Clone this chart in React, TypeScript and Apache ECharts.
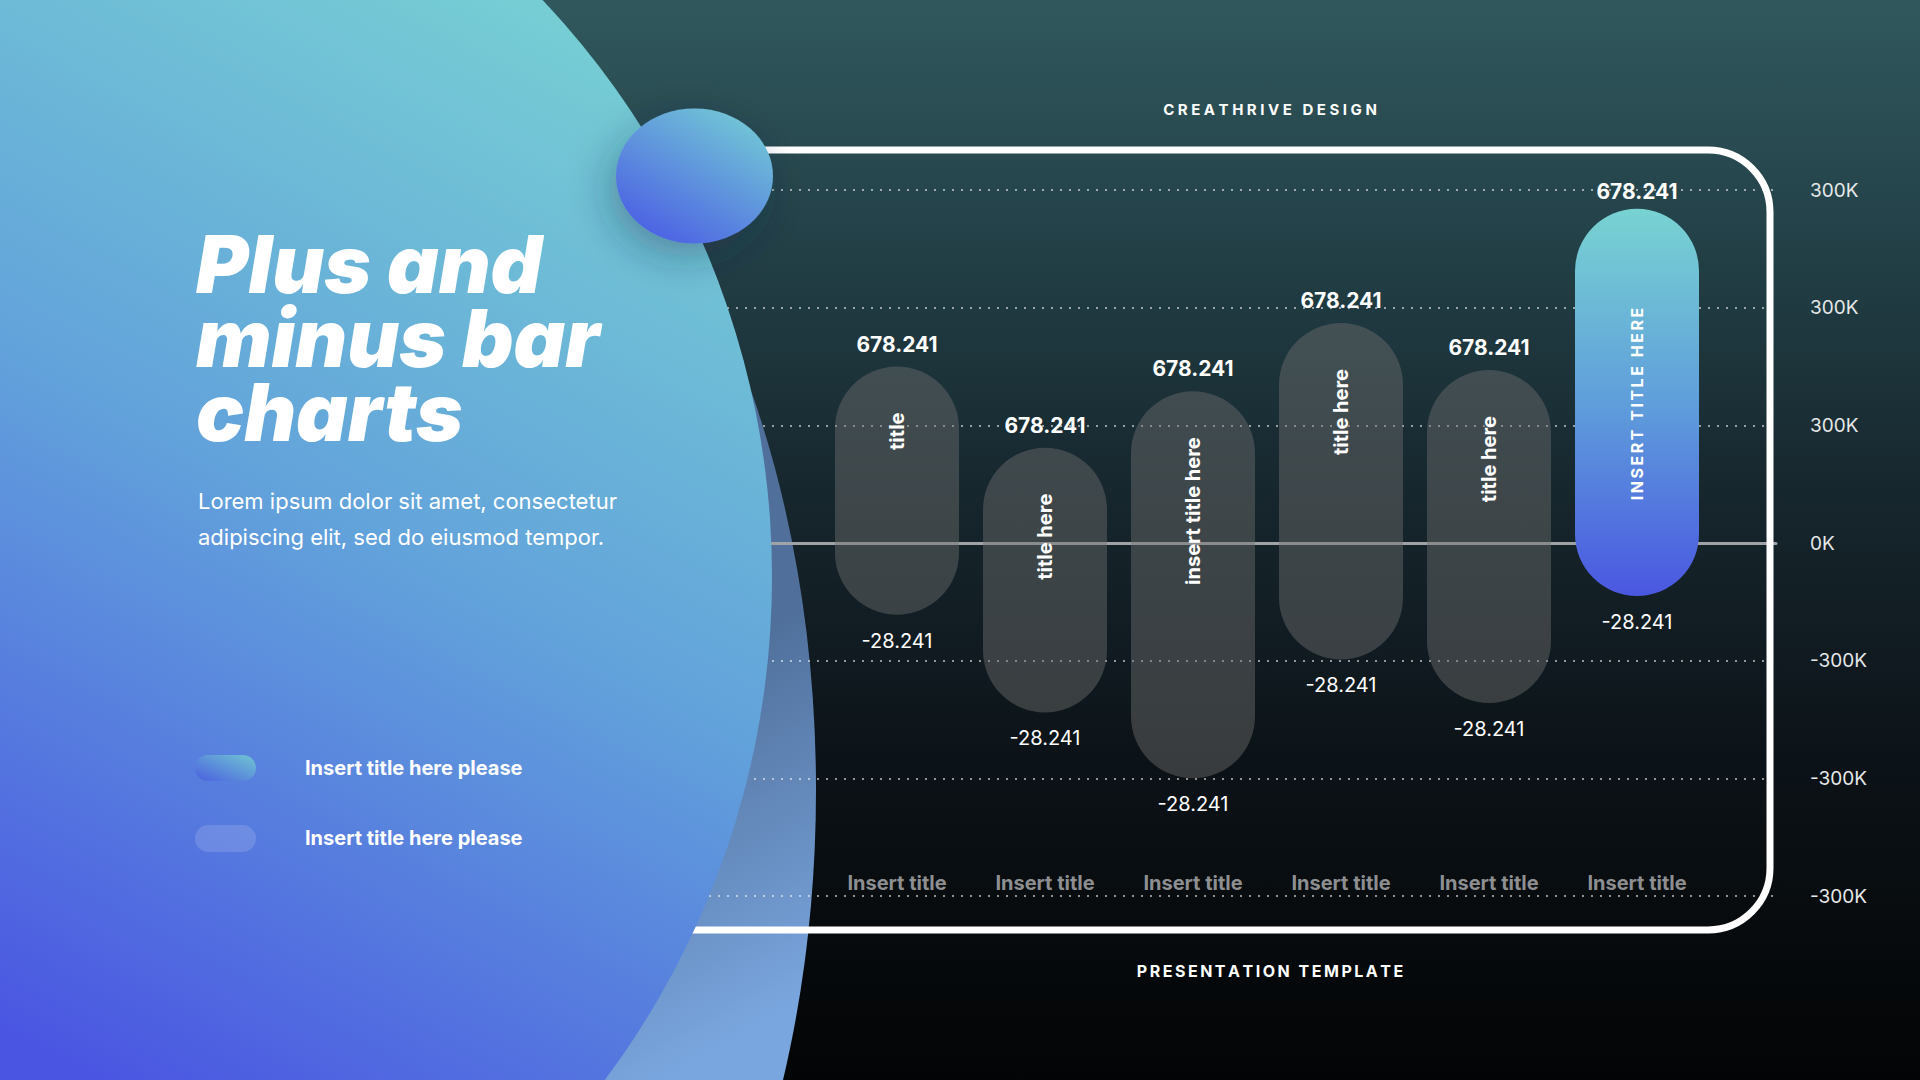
import React, { useEffect, useRef } from "react";
import * as echarts from "echarts";

const categories = ["Insert title", "Insert title", "Insert title", "Insert title", "Insert title", "Insert title"];
const barTops = [150, 81, 129, 187, 147, 284];
const barBottoms = [-61, -144, -200, -99, -136, -45];
const topLabels = ["678.241", "678.241", "678.241", "678.241", "678.241", "678.241"];
const bottomLabels = ["-28.241", "-28.241", "-28.241", "-28.241", "-28.241", "-28.241"];
const innerTitles = ["title", "title here", "insert title here", "title here", "title here", "INSERT TITLE HERE"];
const yTickLabels = ["-300K", "-300K", "-300K", "0K", "300K", "300K", "300K"];
const highlightIndex = 5;
const legendItems = ["Insert title here please", "Insert title here please"];

const FONT = "Inter, 'Noto Sans', sans-serif";
const spaced = (s: string, sep: string) => s.split("").join(sep);

export default function App() {
  const ref = useRef<HTMLDivElement>(null);
  useEffect(() => {
    if (!ref.current) return;
    const chart = echarts.init(ref.current, undefined, { renderer: "svg" });
    const spans = barTops.map((t, i) => t - barBottoms[i]);
    const gradBar = {
      type: "linear", x: 0, y: 0, x2: 0, y2: 1,
      colorStops: [{ offset: 0, color: "#78d3d2" }, { offset: 0.5, color: "#5f9edb" }, { offset: 1, color: "#4a57e1" }],
    };
    const option: any = {
      animation: false,
      grid: [
        { left: 700, right: 144, top: 190, bottom: 184 },
        { left: 823, right: 209, top: 190, bottom: 184 },
      ],
      xAxis: [
        {
          gridIndex: 0, type: "value", min: 0, max: 1,
          axisLabel: { show: false }, axisTick: { show: false }, splitLine: { show: false },
          axisLine: { show: true, onZero: true, lineStyle: { color: "#a0a3a5", width: 3 } },
        },
        {
          gridIndex: 1, type: "category", data: categories, offset: -32,
          axisLine: { show: false, onZero: false }, axisTick: { show: false },
          axisLabel: { color: "#8d8f91", fontSize: 20, fontWeight: "bold", fontFamily: FONT, margin: 9 },
        },
      ],
      yAxis: [
        {
          gridIndex: 0, type: "value", position: "right", min: -300, max: 300, interval: 100,
          axisLine: { show: false }, axisTick: { show: false },
          axisLabel: {
            color: "#e6e8e9", fontSize: 19, fontFamily: FONT, margin: 34,
            formatter: (v: number) => yTickLabels[Math.round((v + 300) / 100)],
          },
          splitLine: { show: true, lineStyle: { color: "rgba(255,255,255,0.55)", width: 2, type: [2, 7] } },
        },
        { gridIndex: 1, type: "value", min: -300, max: 300, interval: 100, show: false },
      ],
      series: [
        {
          type: "bar", xAxisIndex: 1, yAxisIndex: 1, stack: "r", stackStrategy: "all",
          data: barBottoms, barWidth: 124, barGap: "-100%", silent: true,
          itemStyle: { color: "rgba(0,0,0,0)" },
          label: {
            show: true, position: "bottom", distance: 16, color: "#ffffff", fontSize: 20, fontFamily: FONT,
            formatter: (p: any) => bottomLabels[p.dataIndex],
          },
        },
        {
          type: "bar", xAxisIndex: 1, yAxisIndex: 1, stack: "r", stackStrategy: "all",
          barWidth: 124, barGap: "-100%", silent: true,
          data: spans.map((v, i) =>
            i === highlightIndex
              ? { value: v, itemStyle: { color: gradBar }, label: { distance: 99, fontSize: 16 } }
              : v
          ),
          itemStyle: { color: "rgba(110,110,110,0.45)", borderRadius: 62 },
          label: {
            show: true, position: "insideTop", distance: 46, rotate: 90, align: "right", verticalAlign: "middle",
            color: "#ffffff", fontSize: 20, fontWeight: "bold", fontFamily: FONT,
            formatter: (p: any) => (p.dataIndex === highlightIndex ? spaced(innerTitles[p.dataIndex], "\u2009") : innerTitles[p.dataIndex]),
          },
        },
        {
          type: "bar", xAxisIndex: 1, yAxisIndex: 1, barWidth: 124, barGap: "-100%", silent: true,
          data: barTops.map((v, i) => (i === highlightIndex ? { value: v, label: { distance: 7 } } : v)),
          itemStyle: { color: "rgba(0,0,0,0)" },
          label: {
            show: true, position: "top", distance: 12, color: "#ffffff", fontSize: 21, fontWeight: "bold", fontFamily: FONT,
            formatter: (p: any) => topLabels[p.dataIndex],
          },
        },
      ],
      graphic: [
        {
          type: "ellipse", z: -10, silent: true,
          shape: { cx: 316, cy: 790, rx: 500, ry: 810 },
          style: {
            fill: {
              type: "linear", x: 640, y: 700, x2: 810, y2: 1000, global: true,
              colorStops: [{ offset: 0, color: "#50709b" }, { offset: 1, color: "#7aa6df" }],
            },
          },
        },
        {
          type: "rect", z: 1, silent: true,
          shape: { x: 400, y: 150, width: 1370, height: 780, r: 62 },
          style: { fill: "none", stroke: "#ffffff", lineWidth: 7 },
        },
        {
          type: "circle", z: 20, silent: true,
          shape: { cx: -68, cy: 577, r: 840 },
          style: {
            fill: {
              type: "linear", x: 650, y: 0, x2: 80, y2: 1080, global: true,
              colorStops: [{ offset: 0, color: "#78d2d3" }, { offset: 0.5, color: "#62a2db" }, { offset: 1, color: "#4a55e2" }],
            },
          },
        },
        {
          type: "ellipse", z: 21, silent: true,
          shape: { cx: 694.5, cy: 176, rx: 78.5, ry: 67.5 },
          style: {
            fill: {
              type: "linear", x: 740, y: 110, x2: 660, y2: 245, global: true,
              colorStops: [{ offset: 0, color: "#72c8d6" }, { offset: 1, color: "#4c60e4" }],
            },
            shadowBlur: 40, shadowColor: "rgba(20,40,70,0.35)", shadowOffsetX: -8, shadowOffsetY: 14,
          },
        },
        ...["Plus and", "minus bar", "charts"].map((t, i) => ({
          type: "text", z: 30, silent: true, x: 196, y: 263 + i * 74,
          style: { text: t, fill: "#ffffff", fontSize: 80, lineHeight: 70, fontWeight: 900, fontStyle: "italic", fontFamily: FONT, align: "left", verticalAlign: "middle" },
        })),
        ...["Lorem ipsum dolor sit amet, consectetur", "adipiscing elit, sed do eiusmod tempor."].map((t, i) => ({
          type: "text", z: 30, silent: true, x: 198, y: 501 + i * 36,
          style: { text: t, fill: "#ffffff", fontSize: 22, fontFamily: FONT, align: "left", verticalAlign: "middle" },
        })),
        {
          type: "rect", z: 30, silent: true,
          shape: { x: 195, y: 755, width: 61, height: 26, r: 13 },
          style: {
            fill: {
              type: "linear", x: 0, y: 1, x2: 1, y2: 0,
              colorStops: [{ offset: 0, color: "#4b5fe0" }, { offset: 1, color: "#6fc6d2" }],
            },
          },
        },
        {
          type: "rect", z: 30, silent: true,
          shape: { x: 195, y: 825, width: 61, height: 27, r: 13.5 },
          style: { fill: "rgba(255,255,255,0.14)" },
        },
        ...legendItems.map((t, i) => ({
          type: "text", z: 30, silent: true, x: 305, y: 768 + i * 70,
          style: { text: t, fill: "#ffffff", fontSize: 20, fontWeight: "bold", fontFamily: FONT, align: "left", verticalAlign: "middle" },
        })),
        {
          type: "text", z: 30, silent: true, x: 1270, y: 109,
          style: { text: spaced("CREATHRIVE DESIGN", "\u2009\u200A"), fill: "#ffffff", fontSize: 15, fontWeight: "bold", fontFamily: FONT, align: "center", verticalAlign: "middle" },
        },
        {
          type: "text", z: 30, silent: true, x: 1270, y: 971,
          style: { text: spaced("PRESENTATION TEMPLATE", "\u2009"), fill: "#ffffff", fontSize: 16, fontWeight: "bold", fontFamily: FONT, align: "center", verticalAlign: "middle" },
        },
      ],
    };
    chart.setOption(option);
    return () => chart.dispose();
  }, []);
  return (
    <div
      ref={ref}
      style={{
        position: "absolute", left: 0, top: 0, width: 1920, height: 1080,
        background: "linear-gradient(180deg, #30585c 0%, #24434a 20%, #17272e 45%, #0c1318 70%, #030405 100%)",
      }}
    />
  );
}
